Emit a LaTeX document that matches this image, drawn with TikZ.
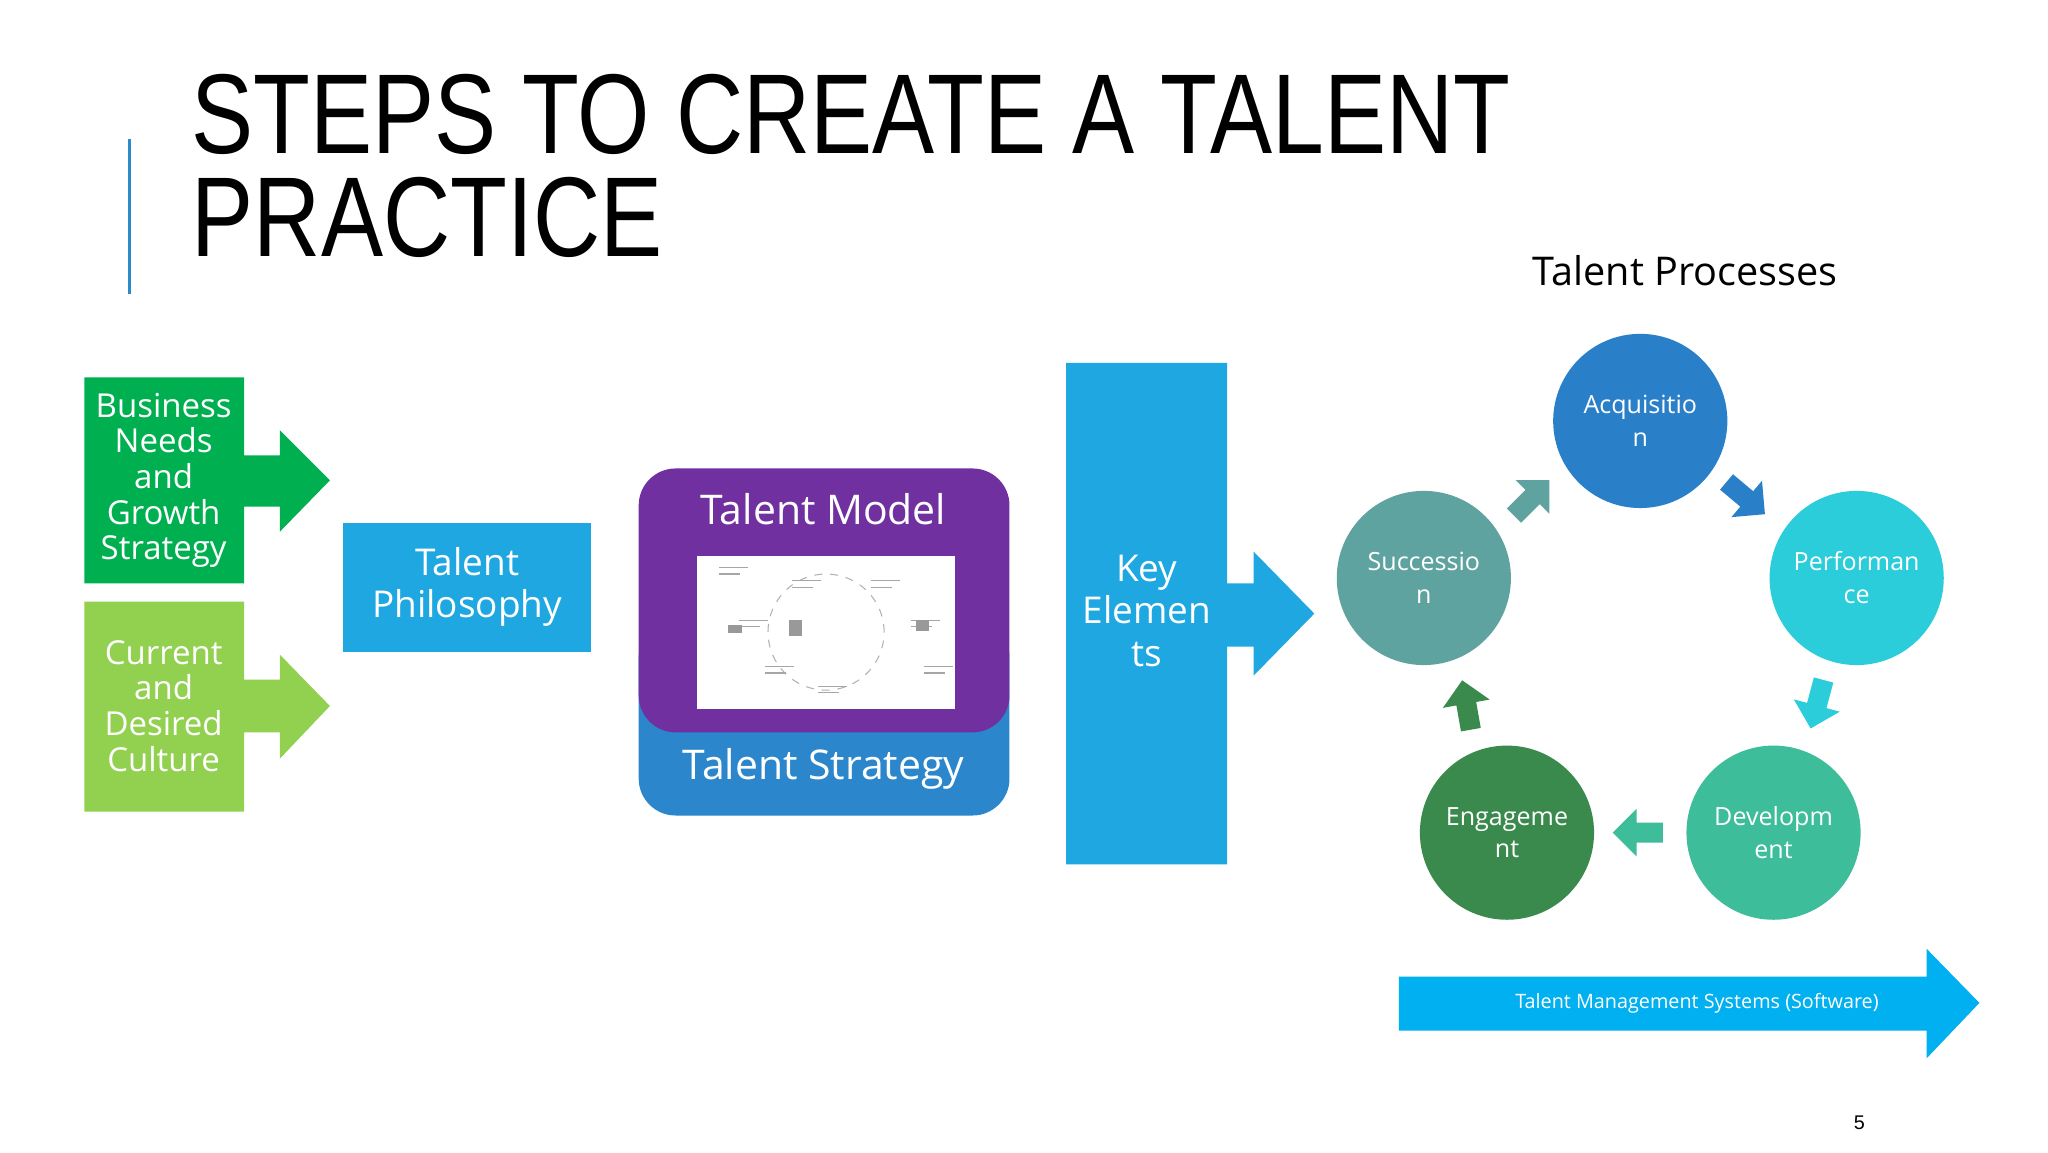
\documentclass[tikz,border=0pt]{standalone}
\usepackage{fontspec}
\setmainfont{Open Sans}
\newfontfamily\titlefont{Liberation Sans}
\usetikzlibrary{shapes.arrows}
\definecolor{gA}{HTML}{00B050}
\definecolor{gB}{HTML}{92D050}
\definecolor{bA}{HTML}{1EA7E1}
\definecolor{bS}{HTML}{2B86CC}
\definecolor{pM}{HTML}{7030A0}
\definecolor{cAcq}{HTML}{2A7FC9}
\definecolor{cPer}{HTML}{2ACDD9}
\definecolor{cDev}{HTML}{3DBD9A}
\definecolor{cEng}{HTML}{3B8A4D}
\definecolor{cSuc}{HTML}{5FA3A0}
\definecolor{bT}{HTML}{00B0F0}
\tikzset{
 wtext/.style={text=white,align=center,font=\fontsize{12.5}{13.5}\selectfont},
 proc/.style={circle,minimum size=66pt,inner sep=0pt,text=white,align=center,font=\fontsize{9.5}{12.5}\selectfont},
 sarrow/.style={single arrow,draw=none,minimum height=19pt,minimum width=18pt,single arrow head extend=3pt,inner sep=2pt}
}
\begin{document}
\begin{tikzpicture}[x=0.5pt,y=-0.5pt]
\useasboundingbox (0,0) rectangle (1552,873);
\fill[white] (0,0) rectangle (1552,873);
\draw[color={rgb,255:red,46;green,139;blue,201},line width=1.2pt] (98,105) -- (98,223);
\node[anchor=west,align=left,inner sep=0pt,xscale=0.82,font=\titlefont\fontsize{43}{39}\selectfont] (title) at (145,126) {STEPS TO CREATE A TALENT\\PRACTICE};
% left blocks
\fill[gA] (64,286) -- (185,286) -- (185,345) -- (212,345) -- (212,326) -- (250,364) -- (212,403) -- (212,384) -- (185,384) -- (185,442) -- (64,442) -- cycle;
\node[wtext] (bn) at (124,364) {Business\\Needs\\and\\Growth\\Strategy};
\fill[gB] (64,456) -- (185,456) -- (185,515) -- (212,515) -- (212,496) -- (250,535) -- (212,575) -- (212,555) -- (185,555) -- (185,615) -- (64,615) -- cycle;
\node[wtext] (cc) at (124,535) {Current\\and\\Desired\\Culture};
\node[fill=bA,minimum width=94pt,minimum height=49pt,text=white,align=center,font=\fontsize{14}{16}\selectfont] (tp) at (354,445) {Talent\\Philosophy};
% talent model stack
\fill[bS,rounded corners=14pt] (484,470) rectangle (765,618);
\node[text=white,font=\fontsize{15.5}{17}\selectfont] (ts) at (624,583) {Talent Strategy};
\fill[pM,rounded corners=14pt] (484,355) rectangle (765,555);
\node[text=white,font=\fontsize{15.5}{17}\selectfont] (tm) at (624,386) {Talent Model};
\node[fill=white,minimum width=98pt,minimum height=58pt,inner sep=0pt] (img) at (626,479) {};
\draw[gray!60,dashed] (626,479) circle (22pt);
\foreach \xx/\yy in {545/430,600/440,660/440,690/470,560/470,700/505,580/505,620/520}
  \draw[gray!70,line width=0.5pt] (\xx,\yy) -- ++(22,0) (\xx,\yy+5) -- ++(16,0);
\fill[gray!80] (598,470) rectangle (608,482);
\fill[gray!80] (552,474) rectangle (562,480);
\fill[gray!80] (694,470) rectangle (704,478);
% key elements
\fill[bA] (808,275) -- (930,275) -- (930,442) -- (950,442) -- (950,418) -- (996,465) -- (950,512) -- (950,490) -- (930,490) -- (930,655) -- (808,655) -- cycle;
\node[text=white,align=center,font=\fontsize{14}{16}\selectfont] (ke) at (869,463) {Key\\Elemen\\ts};
% processes
\node[font=\fontsize{15}{17}\selectfont] (tpr) at (1277,205) {Talent Processes};
\node[proc,fill=cAcq] (acq) at (1243,319) {Acquisitio\\n};
\node[proc,fill=cPer] (per) at (1407,438) {Performan\\ce};
\node[proc,fill=cDev] (dev) at (1344,631) {Developm\\ent};
\node[proc,fill=cEng] (eng) at (1142,631) {Engageme\\nt};
\node[proc,fill=cSuc] (suc) at (1079,438) {Successio\\n};
\node[sarrow,fill=cSuc,rotate=45] (a1) at (1158,380) {};
\node[sarrow,fill=cAcq,rotate=-40] (a2) at (1320,375) {};
\node[sarrow,fill=cPer,rotate=-105] (a3) at (1378,530) {};
\node[sarrow,fill=cDev,rotate=180] (a4) at (1245,631) {};
\node[sarrow,fill=cEng,rotate=100] (a5) at (1112,538) {};
% bottom arrow
\fill[bT] (1060,740) -- (1460,740) -- (1460,719) -- (1500,760) -- (1460,802) -- (1460,781) -- (1060,781) -- cycle;
\node[text=white,font=\fontsize{7.5}{9}\selectfont] (tms) at (1286,760) {Talent Management Systems (Software)};
\node[font=\titlefont\fontsize{7.5}{9}\selectfont] (pg) at (1409,851) {5};
\end{tikzpicture}
\end{document}
